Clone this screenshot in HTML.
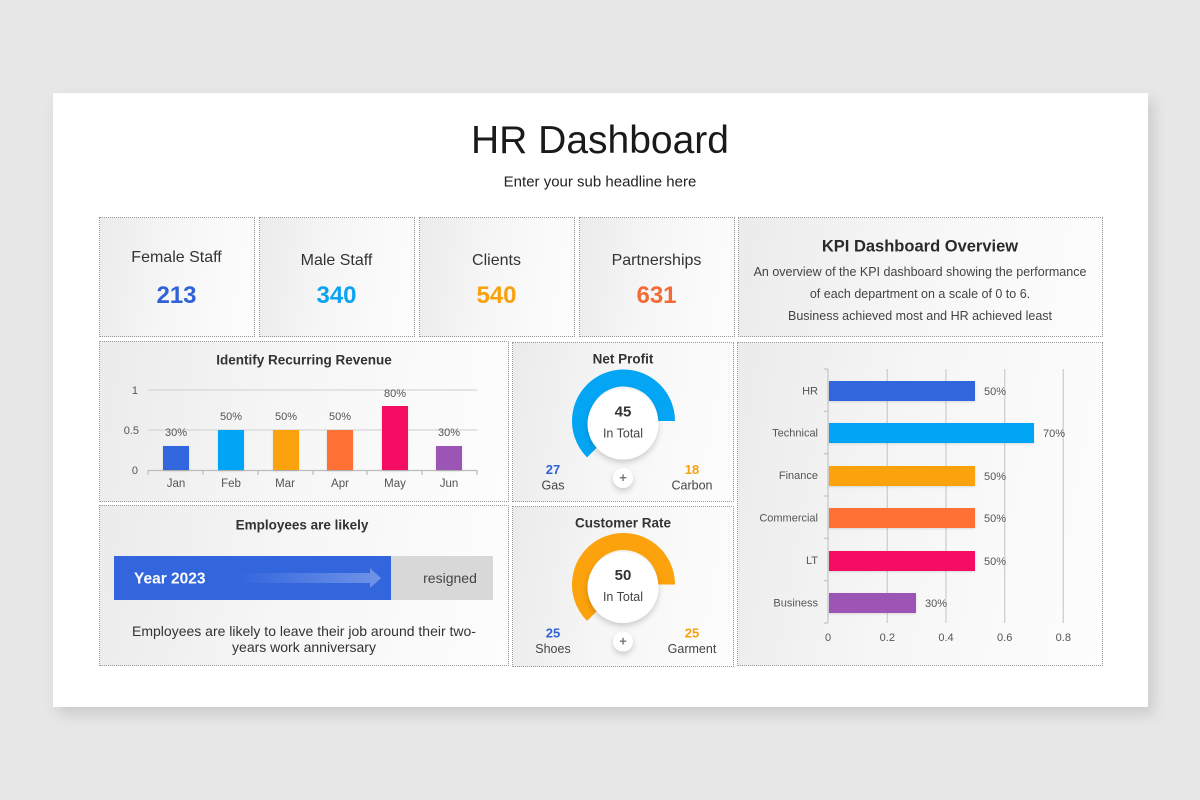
<!DOCTYPE html>
<html><head><meta charset="utf-8">
<style>
html,body{margin:0;padding:0;}
body{width:1200px;height:800px;background:#e8e7e8;position:relative;overflow:hidden;font-family:"Liberation Sans",Arial,sans-serif;}
.card{position:absolute;left:53px;top:93px;width:1095px;height:614px;background:#fff;box-shadow:5px 7px 14px rgba(0,0,0,0.13);}
.box{position:absolute;box-sizing:border-box;border:1px dotted #9a9a9a;background:linear-gradient(100deg,#ebebeb 0%,#f6f6f6 45%,#fdfdfd 100%);}
.t{position:absolute;white-space:nowrap;text-align:center;transform:translate(-50%,-50%);}
</style></head><body>
<div class="card"></div>
<div class="t" style="left:600px;top:141px;font-size:39px;color:#1a1a1a;">HR Dashboard</div>
<div class="t" style="left:600px;top:182px;font-size:15px;color:#222;">Enter your sub headline here</div>

<div class="box" style="left:99px;top:217px;width:156px;height:120px;"></div>
<div class="box" style="left:259px;top:217px;width:156px;height:120px;"></div>
<div class="box" style="left:419px;top:217px;width:156px;height:120px;"></div>
<div class="box" style="left:579px;top:217px;width:156px;height:120px;"></div>
<div class="box" style="left:738px;top:217px;width:365px;height:120px;"></div>
<div class="box" style="left:99px;top:341px;width:410px;height:161px;"></div>
<div class="box" style="left:99px;top:505px;width:410px;height:161px;"></div>
<div class="box" style="left:512px;top:342px;width:222px;height:160px;"></div>
<div class="box" style="left:512px;top:506px;width:222px;height:161px;"></div>
<div class="box" style="left:737px;top:342px;width:366px;height:324px;"></div>

<div class="t" style="left:176.5px;top:258px;font-size:16px;color:#333;">Female Staff</div>
<div class="t" style="left:176.5px;top:296px;font-size:24px;font-weight:bold;color:#2f62d8;">213</div>
<div class="t" style="left:336.5px;top:261px;font-size:16px;color:#333;">Male Staff</div>
<div class="t" style="left:336.5px;top:296px;font-size:24px;font-weight:bold;color:#0aa3f0;">340</div>
<div class="t" style="left:496.5px;top:261px;font-size:16px;color:#333;">Clients</div>
<div class="t" style="left:496.5px;top:296px;font-size:24px;font-weight:bold;color:#f8a10e;">540</div>
<div class="t" style="left:656.5px;top:261px;font-size:16px;color:#333;">Partnerships</div>
<div class="t" style="left:656.5px;top:296px;font-size:24px;font-weight:bold;color:#f46a35;">631</div>

<div class="t" style="left:920px;top:247px;font-size:16.5px;font-weight:bold;color:#2a2a2a;">KPI Dashboard Overview</div>
<div class="t" style="left:920px;top:272px;font-size:12.5px;color:#444;">An overview of the KPI dashboard showing the performance</div>
<div class="t" style="left:920px;top:294px;font-size:12.5px;color:#444;">of each department on a scale of 0 to 6.</div>
<div class="t" style="left:920px;top:316px;font-size:12.5px;color:#444;">Business achieved most and HR achieved least</div>

<div class="t" style="left:304px;top:360px;font-size:13.5px;font-weight:bold;color:#333;">Identify Recurring Revenue</div>
<div class="t" style="left:302px;top:525px;font-size:13.5px;font-weight:bold;color:#333;">Employees are likely</div>
<div class="t" style="left:623px;top:359px;font-size:13.5px;font-weight:bold;color:#333;">Net Profit</div>
<div class="t" style="left:623px;top:523px;font-size:13.5px;font-weight:bold;color:#333;">Customer Rate</div>

<!-- Year bar -->
<div style="position:absolute;left:114px;top:556px;width:277px;height:44px;background:#3366dd;"></div>
<div style="position:absolute;left:391px;top:556px;width:102px;height:44px;background:#d8d8d8;"></div>
<div class="t" style="left:450px;top:578px;font-size:14px;color:#444;">resigned</div>
<div class="t" style="left:304px;top:631px;font-size:14px;color:#333;">Employees are likely to leave their job around their two-</div>
<div class="t" style="left:304px;top:647px;font-size:14px;color:#333;">years work anniversary</div>

<svg width="1200" height="800" style="position:absolute;left:0;top:0;" xmlns="http://www.w3.org/2000/svg" font-family="Liberation Sans, Arial, sans-serif">
<defs>
<linearGradient id="ag" x1="0" x2="1" y1="0" y2="0">
<stop offset="0" stop-color="#ffffff" stop-opacity="0"/>
<stop offset="1" stop-color="#ffffff" stop-opacity="0.3"/>
</linearGradient>
<filter id="sh" x="-50%" y="-50%" width="200%" height="200%">
<feDropShadow dx="0" dy="3" stdDeviation="3" flood-color="#000" flood-opacity="0.18"/>
</filter>
<filter id="bs" x="-10%" y="-30%" width="120%" height="160%">
<feDropShadow dx="0" dy="1" stdDeviation="1" flood-color="#000" flood-opacity="0.12"/>
</filter>
</defs>

<!-- arrow in year bar -->
<polygon points="238,573 370,573 370,568 381,578 370,588 370,583 238,583" fill="url(#ag)"/>
<text x="134" y="583.5" font-size="15.5" font-weight="bold" fill="#fff">Year 2023</text>

<!-- Revenue chart -->
<g stroke="#d6d6d6" stroke-width="1.2">
<line x1="148" y1="390" x2="477" y2="390"/>
<line x1="148" y1="430" x2="477" y2="430"/>
</g>
<g stroke="#bcbcbc" stroke-width="1.2">
<line x1="148" y1="470.5" x2="477" y2="470.5"/>
<line x1="148" y1="470" x2="148" y2="475"/>
<line x1="203" y1="470" x2="203" y2="475"/>
<line x1="258" y1="470" x2="258" y2="475"/>
<line x1="313" y1="470" x2="313" y2="475"/>
<line x1="367" y1="470" x2="367" y2="475"/>
<line x1="422" y1="470" x2="422" y2="475"/>
<line x1="477" y1="470" x2="477" y2="475"/>
</g>
<g font-size="11" fill="#555" text-anchor="end">
<text x="138" y="394">1</text>
<text x="139" y="434">0.5</text>
<text x="138" y="474">0</text>
</g>
<g filter="url(#bs)">
<rect x="163" y="446" width="26" height="24" fill="#3366dd"/>
<rect x="218" y="430" width="26" height="40" fill="#00a6f5"/>
<rect x="273" y="430" width="26" height="40" fill="#fba20c"/>
<rect x="327" y="430" width="26" height="40" fill="#ff6f35"/>
<rect x="382" y="406" width="26" height="64" fill="#f40e62"/>
<rect x="436" y="446" width="26" height="24" fill="#9c55b5"/>
</g>
<g font-size="11" fill="#555" text-anchor="middle">
<text x="176" y="436">30%</text>
<text x="231" y="420">50%</text>
<text x="286" y="420">50%</text>
<text x="340" y="420">50%</text>
<text x="395" y="397">80%</text>
<text x="449" y="436">30%</text>
<text x="176" y="487" font-size="11.5">Jan</text>
<text x="231" y="487" font-size="11.5">Feb</text>
<text x="285" y="487" font-size="11.5">Mar</text>
<text x="340" y="487" font-size="11.5">Apr</text>
<text x="395" y="487" font-size="11.5">May</text>
<text x="449" y="487" font-size="11.5">Jun</text>
</g>

<!-- Net profit donut -->
<path d="M 666.5 421 A 43 43 0 1 0 593.1 451.4" fill="none" stroke="#03a5f4" stroke-width="17"/>
<circle cx="623" cy="424" r="35.5" fill="#fff" filter="url(#sh)"/>
<text x="623" y="416.5" font-size="15" font-weight="bold" fill="#333" text-anchor="middle">45</text>
<text x="623" y="437.5" font-size="12.5" fill="#444" text-anchor="middle">In Total</text>
<circle cx="623" cy="478" r="10" fill="#fff" filter="url(#sh)"/>
<text x="623" y="482" font-size="13" font-weight="bold" fill="#777" text-anchor="middle">+</text>
<text x="553" y="474" font-size="13" font-weight="bold" fill="#2f62d8" text-anchor="middle">27</text>
<text x="553" y="489.5" font-size="12.5" fill="#444" text-anchor="middle">Gas</text>
<text x="692" y="474" font-size="13" font-weight="bold" fill="#f8a10e" text-anchor="middle">18</text>
<text x="692" y="489.5" font-size="12.5" fill="#444" text-anchor="middle">Carbon</text>

<!-- Customer rate donut -->
<path d="M 666.5 584.5 A 43 43 0 1 0 593.1 614.9" fill="none" stroke="#fba20c" stroke-width="17"/>
<circle cx="623" cy="587.5" r="35.5" fill="#fff" filter="url(#sh)"/>
<text x="623" y="580" font-size="15" font-weight="bold" fill="#333" text-anchor="middle">50</text>
<text x="623" y="601" font-size="12.5" fill="#444" text-anchor="middle">In Total</text>
<circle cx="623" cy="641.5" r="10" fill="#fff" filter="url(#sh)"/>
<text x="623" y="645.5" font-size="13" font-weight="bold" fill="#777" text-anchor="middle">+</text>
<text x="553" y="637.5" font-size="13" font-weight="bold" fill="#2f62d8" text-anchor="middle">25</text>
<text x="553" y="653" font-size="12.5" fill="#444" text-anchor="middle">Shoes</text>
<text x="692" y="637.5" font-size="13" font-weight="bold" fill="#f8a10e" text-anchor="middle">25</text>
<text x="692" y="653" font-size="12.5" fill="#444" text-anchor="middle">Garment</text>

<!-- KPI horizontal bar chart -->
<g stroke="#cfcfcf" stroke-width="1.3">
<line x1="887.3" y1="369" x2="887.3" y2="623"/>
<line x1="946" y1="369" x2="946" y2="623"/>
<line x1="1004.7" y1="369" x2="1004.7" y2="623"/>
<line x1="1063.3" y1="369" x2="1063.3" y2="623"/>
</g>
<g stroke="#c4c4c4" stroke-width="1.2">
<line x1="828" y1="369" x2="828" y2="623"/>
<line x1="824" y1="369" x2="828" y2="369"/>
<line x1="824" y1="411.3" x2="828" y2="411.3"/>
<line x1="824" y1="453.7" x2="828" y2="453.7"/>
<line x1="824" y1="496" x2="828" y2="496"/>
<line x1="824" y1="538.3" x2="828" y2="538.3"/>
<line x1="824" y1="580.7" x2="828" y2="580.7"/>
<line x1="824" y1="623" x2="828" y2="623"/>
</g>
<g filter="url(#bs)">
<rect x="829" y="381" width="146" height="20" fill="#3366dd"/>
<rect x="829" y="423" width="205" height="20" fill="#00a6f5"/>
<rect x="829" y="466" width="146" height="20" fill="#fba20c"/>
<rect x="829" y="508" width="146" height="20" fill="#ff6f35"/>
<rect x="829" y="551" width="146" height="20" fill="#f40e62"/>
<rect x="829" y="593" width="87" height="20" fill="#9c55b5"/>
</g>
<g font-size="11" fill="#555" text-anchor="end">
<text x="818" y="394.5">HR</text>
<text x="818" y="436.5">Technical</text>
<text x="818" y="479">Finance</text>
<text x="818" y="521.5">Commercial</text>
<text x="818" y="564">LT</text>
<text x="818" y="606.5">Business</text>
</g>
<g font-size="11" fill="#555">
<text x="984" y="395">50%</text>
<text x="1043" y="437">70%</text>
<text x="984" y="480">50%</text>
<text x="984" y="522">50%</text>
<text x="984" y="565">50%</text>
<text x="925" y="607">30%</text>
</g>
<g font-size="11" fill="#555" text-anchor="middle">
<text x="828" y="641">0</text>
<text x="887.3" y="641">0.2</text>
<text x="946" y="641">0.4</text>
<text x="1004.7" y="641">0.6</text>
<text x="1063.3" y="641">0.8</text>
</g>
</svg>
</body></html>
